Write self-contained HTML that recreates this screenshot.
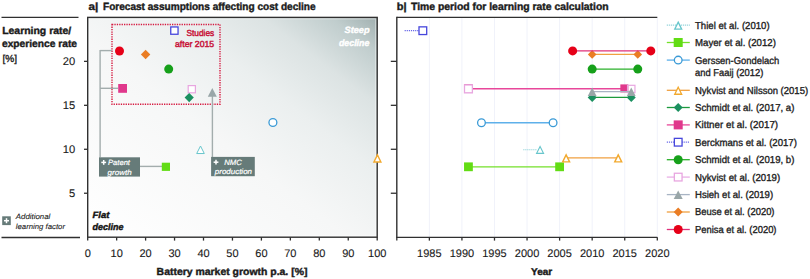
<!DOCTYPE html>
<html><head><meta charset="utf-8"><style>
html,body{margin:0;padding:0;background:#fff;overflow:hidden;}
svg{display:block;font-family:"Liberation Sans",sans-serif;text-rendering:geometricPrecision;}
</style></head><body>
<svg width="810" height="279" viewBox="0 0 810 279">
<text x="88.6" y="9.6" font-size="10.5" font-weight="bold" font-style="normal" fill="#1a1a1a" text-anchor="start" textLength="9.8" lengthAdjust="spacingAndGlyphs" stroke="#1a1a1a" stroke-width="0.4">a|</text>
<text x="103.0" y="9.6" font-size="10.5" font-weight="bold" font-style="normal" fill="#1a1a1a" text-anchor="start" textLength="212.6" lengthAdjust="spacingAndGlyphs" stroke="#1a1a1a" stroke-width="0.4">Forecast assumptions affecting cost decline</text>
<text x="396.8" y="9.6" font-size="10.5" font-weight="bold" font-style="normal" fill="#1a1a1a" text-anchor="start" textLength="9.8" lengthAdjust="spacingAndGlyphs" stroke="#1a1a1a" stroke-width="0.4">b|</text>
<text x="411.0" y="9.6" font-size="10.5" font-weight="bold" font-style="normal" fill="#1a1a1a" text-anchor="start" textLength="197.6" lengthAdjust="spacingAndGlyphs" stroke="#1a1a1a" stroke-width="0.4">Time period for learning rate calculation</text>
<line x1="1.50" y1="17.40" x2="78.50" y2="17.40" stroke="#303030" stroke-width="1.3"/>
<line x1="1.50" y1="237.50" x2="80.00" y2="237.50" stroke="#303030" stroke-width="1.3"/>
<text x="2.2" y="33.8" font-size="10.2" font-weight="bold" font-style="normal" fill="#1a1a1a" text-anchor="start" textLength="69" lengthAdjust="spacingAndGlyphs" stroke="#1a1a1a" stroke-width="0.4">Learning rate/</text>
<text x="2.0" y="47.3" font-size="10.2" font-weight="bold" font-style="normal" fill="#1a1a1a" text-anchor="start" textLength="75" lengthAdjust="spacingAndGlyphs" stroke="#1a1a1a" stroke-width="0.4">experience rate</text>
<text x="2.4" y="62.3" font-size="10.2" font-weight="normal" font-style="normal" fill="#1a1a1a" text-anchor="start" textLength="14.6" lengthAdjust="spacingAndGlyphs" stroke="#1a1a1a" stroke-width="0.35">[%]</text>
<rect x="2.2" y="216.3" width="8.6" height="8.8" fill="#667b79"/>
<line x1="4.00" y1="220.70" x2="9.00" y2="220.70" stroke="#fff" stroke-width="1.5"/>
<line x1="6.50" y1="218.20" x2="6.50" y2="223.20" stroke="#fff" stroke-width="1.5"/>
<text x="15.8" y="219.3" font-size="7.5" font-weight="normal" font-style="italic" fill="#1a1a1a" text-anchor="start" textLength="34.5" lengthAdjust="spacingAndGlyphs" stroke="#1a1a1a" stroke-width="0.1">Additional</text>
<text x="15.8" y="229.2" font-size="7.5" font-weight="normal" font-style="italic" fill="#1a1a1a" text-anchor="start" textLength="49.2" lengthAdjust="spacingAndGlyphs" stroke="#1a1a1a" stroke-width="0.1">learning factor</text>
<defs><linearGradient id="g" gradientUnits="userSpaceOnUse" x1="126.6" y1="266.7" x2="338.3" y2="-12.1"><stop offset="0" stop-color="#ffffff"/><stop offset="0.45" stop-color="#f6f7f7"/><stop offset="0.65" stop-color="#ebefef"/><stop offset="0.8" stop-color="#dce3e3"/><stop offset="0.92" stop-color="#c0cdcd"/><stop offset="1" stop-color="#a0afaf"/></linearGradient></defs>
<rect x="87.7" y="17.4" width="289.50" height="219.80" fill="url(#g)"/>
<text x="92.5" y="217.9" font-size="9.2" font-weight="bold" font-style="italic" fill="#111" text-anchor="start" textLength="16.8" lengthAdjust="spacingAndGlyphs" stroke="#111" stroke-width="0.4">Flat</text>
<text x="92.5" y="230.4" font-size="9.2" font-weight="bold" font-style="italic" fill="#111" text-anchor="start" textLength="31" lengthAdjust="spacingAndGlyphs" stroke="#111" stroke-width="0.4">decline</text>
<text x="369.6" y="32.9" font-size="9.2" font-weight="bold" font-style="italic" fill="#fff" text-anchor="end" textLength="25" lengthAdjust="spacingAndGlyphs" stroke="#fff" stroke-width="0.4">Steep</text>
<text x="369.4" y="45.5" font-size="9.2" font-weight="bold" font-style="italic" fill="#fff" text-anchor="end" textLength="30.5" lengthAdjust="spacingAndGlyphs" stroke="#fff" stroke-width="0.4">decline</text>
<rect x="112" y="24.5" width="108" height="79.7" fill="none" stroke="#d51a40" stroke-width="1.4" stroke-dasharray="1.3 1.1"/>
<text x="214.2" y="36.1" font-size="8.8" font-weight="normal" font-style="normal" fill="#c8143a" text-anchor="end" textLength="27.8" lengthAdjust="spacingAndGlyphs" stroke="#c8143a" stroke-width="0.45">Studies</text>
<text x="214.2" y="46.7" font-size="8.8" font-weight="normal" font-style="normal" fill="#c8143a" text-anchor="end" textLength="39.2" lengthAdjust="spacingAndGlyphs" stroke="#c8143a" stroke-width="0.45">after 2015</text>
<line x1="100.10" y1="50.60" x2="112.00" y2="50.60" stroke="#a3adad" stroke-width="1.4"/>
<line x1="100.10" y1="88.30" x2="118.00" y2="88.30" stroke="#a3adad" stroke-width="1.4"/>
<line x1="100.10" y1="49.90" x2="100.10" y2="157.30" stroke="#a3adad" stroke-width="1.4"/>
<line x1="140.00" y1="166.40" x2="162.00" y2="166.40" stroke="#a3adad" stroke-width="1.4"/>
<line x1="212.40" y1="96.00" x2="212.40" y2="157.00" stroke="#a3adad" stroke-width="1.4"/>
<rect x="99" y="157.3" width="41" height="19.3" fill="#667b79"/>
<line x1="101.30" y1="162.40" x2="106.10" y2="162.40" stroke="#fff" stroke-width="1.5"/>
<line x1="103.70" y1="160.00" x2="103.70" y2="164.80" stroke="#fff" stroke-width="1.5"/>
<text x="108" y="164.7" font-size="7.6" font-weight="normal" font-style="italic" fill="#fff" text-anchor="start" textLength="22" lengthAdjust="spacingAndGlyphs" stroke="#fff" stroke-width="0.2">Patent</text>
<text x="107.6" y="174.5" font-size="7.6" font-weight="normal" font-style="italic" fill="#fff" text-anchor="start" textLength="24" lengthAdjust="spacingAndGlyphs" stroke="#fff" stroke-width="0.2">growth</text>
<rect x="211.1" y="156.9" width="43.7" height="19.3" fill="#667b79"/>
<line x1="213.60" y1="162.20" x2="218.40" y2="162.20" stroke="#fff" stroke-width="1.5"/>
<line x1="216.00" y1="159.80" x2="216.00" y2="164.60" stroke="#fff" stroke-width="1.5"/>
<text x="224.2" y="164.6" font-size="7.6" font-weight="normal" font-style="italic" fill="#fff" text-anchor="start" textLength="17.6" lengthAdjust="spacingAndGlyphs" stroke="#fff" stroke-width="0.2">NMC</text>
<text x="214.8" y="174.3" font-size="7.6" font-weight="normal" font-style="italic" fill="#fff" text-anchor="start" textLength="37.2" lengthAdjust="spacingAndGlyphs" stroke="#fff" stroke-width="0.2">production</text>
<circle cx="119.50" cy="51.00" r="4.5" fill="#e60018"/>
<path d="M145.60 49.80L150.30 54.50L145.60 59.20L140.90 54.50Z" fill="#ea7d24"/>
<rect x="170.75" y="26.95" width="7.30" height="7.30" fill="#fff" stroke="#4646dc" stroke-width="1.3"/>
<circle cx="168.70" cy="69.10" r="4.5" fill="#16a01a"/>
<rect x="118.20" y="84.00" width="8.8" height="8.8" fill="#e0388c"/>
<rect x="188.20" y="85.60" width="7.20" height="7.20" fill="#fff" stroke="#e8a6e0" stroke-width="1.2"/>
<path d="M189.20 93.00L193.80 97.60L189.20 102.20L184.60 97.60Z" fill="#1b9060"/>
<path d="M212.30 88.10L216.80 96.65L207.80 96.65Z" fill="#99a6a8"/>
<circle cx="272.90" cy="122.50" r="3.95" fill="#fff" stroke="#3a9ad6" stroke-width="1.3"/>
<path d="M200.50 146.00L204.30 153.54L196.70 153.54Z" fill="#fff" stroke="#68c6cc" stroke-width="1.0" stroke-linejoin="miter"/>
<rect x="161.80" y="162.70" width="8.2" height="8.2" fill="#62dc14"/>
<rect x="89.10" y="18.80" width="286.70" height="217.00" fill="none" stroke="#ffffff" stroke-opacity="0.5" stroke-width="1.1"/>
<rect x="87.7" y="17.4" width="289.50" height="219.80" fill="none" stroke="#303030" stroke-width="1.4"/>
<path d="M377.40 154.92L380.88 161.98L373.92 161.98Z" fill="#fff" stroke="#f2a92e" stroke-width="1.4" stroke-linejoin="miter"/>
<line x1="84.00" y1="193.24" x2="87.70" y2="193.24" stroke="#303030" stroke-width="1.3"/>
<text x="75.3" y="196.93999999999997" font-size="11.2" font-weight="normal" font-style="normal" fill="#1a1a1a" text-anchor="end" stroke="#1a1a1a" stroke-width="0.12">5</text>
<line x1="84.00" y1="149.28" x2="87.70" y2="149.28" stroke="#303030" stroke-width="1.3"/>
<text x="75.3" y="152.97999999999996" font-size="11.2" font-weight="normal" font-style="normal" fill="#1a1a1a" text-anchor="end" stroke="#1a1a1a" stroke-width="0.12">10</text>
<line x1="84.00" y1="105.32" x2="87.70" y2="105.32" stroke="#303030" stroke-width="1.3"/>
<text x="75.3" y="109.02" font-size="11.2" font-weight="normal" font-style="normal" fill="#1a1a1a" text-anchor="end" stroke="#1a1a1a" stroke-width="0.12">15</text>
<line x1="84.00" y1="61.36" x2="87.70" y2="61.36" stroke="#303030" stroke-width="1.3"/>
<text x="75.3" y="65.05999999999999" font-size="11.2" font-weight="normal" font-style="normal" fill="#1a1a1a" text-anchor="end" stroke="#1a1a1a" stroke-width="0.12">20</text>
<line x1="87.70" y1="237.20" x2="87.70" y2="240.60" stroke="#303030" stroke-width="1.3"/>
<text x="87.7" y="257.1" font-size="11" font-weight="normal" font-style="normal" fill="#1a1a1a" text-anchor="middle" stroke="#1a1a1a" stroke-width="0.12">0</text>
<line x1="116.65" y1="237.20" x2="116.65" y2="240.60" stroke="#303030" stroke-width="1.3"/>
<text x="116.65" y="257.1" font-size="11" font-weight="normal" font-style="normal" fill="#1a1a1a" text-anchor="middle" stroke="#1a1a1a" stroke-width="0.12">10</text>
<line x1="145.60" y1="237.20" x2="145.60" y2="240.60" stroke="#303030" stroke-width="1.3"/>
<text x="145.6" y="257.1" font-size="11" font-weight="normal" font-style="normal" fill="#1a1a1a" text-anchor="middle" stroke="#1a1a1a" stroke-width="0.12">20</text>
<line x1="174.55" y1="237.20" x2="174.55" y2="240.60" stroke="#303030" stroke-width="1.3"/>
<text x="174.55" y="257.1" font-size="11" font-weight="normal" font-style="normal" fill="#1a1a1a" text-anchor="middle" stroke="#1a1a1a" stroke-width="0.12">30</text>
<line x1="203.50" y1="237.20" x2="203.50" y2="240.60" stroke="#303030" stroke-width="1.3"/>
<text x="203.5" y="257.1" font-size="11" font-weight="normal" font-style="normal" fill="#1a1a1a" text-anchor="middle" stroke="#1a1a1a" stroke-width="0.12">40</text>
<line x1="232.45" y1="237.20" x2="232.45" y2="240.60" stroke="#303030" stroke-width="1.3"/>
<text x="232.45" y="257.1" font-size="11" font-weight="normal" font-style="normal" fill="#1a1a1a" text-anchor="middle" stroke="#1a1a1a" stroke-width="0.12">50</text>
<line x1="261.40" y1="237.20" x2="261.40" y2="240.60" stroke="#303030" stroke-width="1.3"/>
<text x="261.4" y="257.1" font-size="11" font-weight="normal" font-style="normal" fill="#1a1a1a" text-anchor="middle" stroke="#1a1a1a" stroke-width="0.12">60</text>
<line x1="290.35" y1="237.20" x2="290.35" y2="240.60" stroke="#303030" stroke-width="1.3"/>
<text x="290.35" y="257.1" font-size="11" font-weight="normal" font-style="normal" fill="#1a1a1a" text-anchor="middle" stroke="#1a1a1a" stroke-width="0.12">70</text>
<line x1="319.30" y1="237.20" x2="319.30" y2="240.60" stroke="#303030" stroke-width="1.3"/>
<text x="319.3" y="257.1" font-size="11" font-weight="normal" font-style="normal" fill="#1a1a1a" text-anchor="middle" stroke="#1a1a1a" stroke-width="0.12">80</text>
<line x1="348.25" y1="237.20" x2="348.25" y2="240.60" stroke="#303030" stroke-width="1.3"/>
<text x="348.25" y="257.1" font-size="11" font-weight="normal" font-style="normal" fill="#1a1a1a" text-anchor="middle" stroke="#1a1a1a" stroke-width="0.12">90</text>
<line x1="377.20" y1="237.20" x2="377.20" y2="240.60" stroke="#303030" stroke-width="1.3"/>
<text x="377.2" y="257.1" font-size="11" font-weight="normal" font-style="normal" fill="#1a1a1a" text-anchor="middle" stroke="#1a1a1a" stroke-width="0.12">100</text>
<text x="156.6" y="274.9" font-size="10.2" font-weight="bold" font-style="normal" fill="#1a1a1a" text-anchor="start" textLength="150.8" lengthAdjust="spacingAndGlyphs" stroke="#1a1a1a" stroke-width="0.4">Battery market growth p.a. [%]</text>
<line x1="429.36" y1="17.40" x2="429.36" y2="237.20" stroke="#f0f2fa" stroke-width="1.0"/>
<line x1="461.93" y1="17.40" x2="461.93" y2="237.20" stroke="#f0f2fa" stroke-width="1.0"/>
<line x1="494.49" y1="17.40" x2="494.49" y2="237.20" stroke="#f0f2fa" stroke-width="1.0"/>
<line x1="527.05" y1="17.40" x2="527.05" y2="237.20" stroke="#f0f2fa" stroke-width="1.0"/>
<line x1="559.61" y1="17.40" x2="559.61" y2="237.20" stroke="#f0f2fa" stroke-width="1.0"/>
<line x1="592.17" y1="17.40" x2="592.17" y2="237.20" stroke="#f0f2fa" stroke-width="1.0"/>
<line x1="624.74" y1="17.40" x2="624.74" y2="237.20" stroke="#f0f2fa" stroke-width="1.0"/>
<line x1="657.30" y1="17.40" x2="657.30" y2="237.20" stroke="#f0f2fa" stroke-width="1.0"/>
<line x1="396.80" y1="17.40" x2="657.30" y2="17.40" stroke="#303030" stroke-width="1.4"/>
<line x1="396.80" y1="16.70" x2="396.80" y2="237.90" stroke="#303030" stroke-width="1.4"/>
<line x1="396.80" y1="237.40" x2="657.30" y2="237.40" stroke="#303030" stroke-width="1.4"/>
<line x1="390.80" y1="193.24" x2="396.80" y2="193.24" stroke="#303030" stroke-width="1.3"/>
<line x1="390.80" y1="149.28" x2="396.80" y2="149.28" stroke="#303030" stroke-width="1.3"/>
<line x1="390.80" y1="105.32" x2="396.80" y2="105.32" stroke="#303030" stroke-width="1.3"/>
<line x1="390.80" y1="61.36" x2="396.80" y2="61.36" stroke="#303030" stroke-width="1.3"/>
<line x1="396.80" y1="237.20" x2="396.80" y2="240.60" stroke="#303030" stroke-width="1.3"/>
<line x1="429.36" y1="237.20" x2="429.36" y2="240.60" stroke="#303030" stroke-width="1.3"/>
<text x="429.3625" y="257.1" font-size="11" font-weight="normal" font-style="normal" fill="#1a1a1a" text-anchor="middle" stroke="#1a1a1a" stroke-width="0.12">1985</text>
<line x1="461.93" y1="237.20" x2="461.93" y2="240.60" stroke="#303030" stroke-width="1.3"/>
<text x="461.925" y="257.1" font-size="11" font-weight="normal" font-style="normal" fill="#1a1a1a" text-anchor="middle" stroke="#1a1a1a" stroke-width="0.12">1990</text>
<line x1="494.49" y1="237.20" x2="494.49" y2="240.60" stroke="#303030" stroke-width="1.3"/>
<text x="494.48749999999995" y="257.1" font-size="11" font-weight="normal" font-style="normal" fill="#1a1a1a" text-anchor="middle" stroke="#1a1a1a" stroke-width="0.12">1995</text>
<line x1="527.05" y1="237.20" x2="527.05" y2="240.60" stroke="#303030" stroke-width="1.3"/>
<text x="527.05" y="257.1" font-size="11" font-weight="normal" font-style="normal" fill="#1a1a1a" text-anchor="middle" stroke="#1a1a1a" stroke-width="0.12">2000</text>
<line x1="559.61" y1="237.20" x2="559.61" y2="240.60" stroke="#303030" stroke-width="1.3"/>
<text x="559.6125" y="257.1" font-size="11" font-weight="normal" font-style="normal" fill="#1a1a1a" text-anchor="middle" stroke="#1a1a1a" stroke-width="0.12">2005</text>
<line x1="592.17" y1="237.20" x2="592.17" y2="240.60" stroke="#303030" stroke-width="1.3"/>
<text x="592.175" y="257.1" font-size="11" font-weight="normal" font-style="normal" fill="#1a1a1a" text-anchor="middle" stroke="#1a1a1a" stroke-width="0.12">2010</text>
<line x1="624.74" y1="237.20" x2="624.74" y2="240.60" stroke="#303030" stroke-width="1.3"/>
<text x="624.7375" y="257.1" font-size="11" font-weight="normal" font-style="normal" fill="#1a1a1a" text-anchor="middle" stroke="#1a1a1a" stroke-width="0.12">2015</text>
<line x1="657.30" y1="237.20" x2="657.30" y2="240.60" stroke="#303030" stroke-width="1.3"/>
<text x="657.3" y="257.1" font-size="11" font-weight="normal" font-style="normal" fill="#1a1a1a" text-anchor="middle" stroke="#1a1a1a" stroke-width="0.12">2020</text>
<text x="531" y="274.9" font-size="10" font-weight="bold" font-style="normal" fill="#1a1a1a" text-anchor="start" textLength="21.2" lengthAdjust="spacingAndGlyphs" stroke="#1a1a1a" stroke-width="0.4">Year</text>
<line x1="523.30" y1="149.70" x2="536.58" y2="149.70" stroke="#8ad0d8" stroke-width="1.1" stroke-dasharray="1.1 0.9"/>
<path d="M540.08 146.38L543.60 153.42L536.56 153.42Z" fill="#fff" stroke="#68c6cc" stroke-width="1.1" stroke-linejoin="miter"/>
<line x1="468.44" y1="166.80" x2="559.61" y2="166.80" stroke="#74e02a" stroke-width="1.3"/>
<rect x="464.04" y="162.40" width="8.8" height="8.8" fill="#62dc14"/>
<rect x="555.21" y="162.40" width="8.8" height="8.8" fill="#62dc14"/>
<line x1="481.46" y1="122.80" x2="553.10" y2="122.80" stroke="#5eb0ea" stroke-width="1.5"/>
<circle cx="481.46" cy="122.80" r="3.85" fill="#fff" stroke="#3a9ad6" stroke-width="1.3"/>
<circle cx="553.10" cy="122.80" r="3.85" fill="#fff" stroke="#3a9ad6" stroke-width="1.3"/>
<line x1="566.12" y1="157.90" x2="618.22" y2="157.90" stroke="#f0a040" stroke-width="1.3"/>
<path d="M566.12 154.82L569.61 161.88L562.64 161.88Z" fill="#fff" stroke="#f2a92e" stroke-width="1.4" stroke-linejoin="miter"/>
<path d="M618.22 154.82L621.70 161.88L614.74 161.88Z" fill="#fff" stroke="#f2a92e" stroke-width="1.4" stroke-linejoin="miter"/>
<line x1="592.17" y1="97.40" x2="631.25" y2="97.40" stroke="#1c9a3c" stroke-width="1.3"/>
<path d="M592.17 92.90L596.67 97.40L592.17 101.90L587.67 97.40Z" fill="#1b9060"/>
<path d="M631.25 92.90L635.75 97.40L631.25 101.90L626.75 97.40Z" fill="#1b9060"/>
<line x1="468.44" y1="88.80" x2="624.74" y2="88.80" stroke="#e8479a" stroke-width="1.4"/>
<rect x="464.14" y="84.30" width="8.6" height="8.6" fill="#e0388c"/>
<rect x="620.34" y="84.40" width="8" height="8" fill="#e0388c"/>
<line x1="404.62" y1="30.70" x2="418.85" y2="30.70" stroke="#6a6ae8" stroke-width="1.3" stroke-dasharray="1.2 0.9"/>
<rect x="419.00" y="26.85" width="7.70" height="7.70" fill="#fff" stroke="#4646dc" stroke-width="1.3"/>
<line x1="592.17" y1="69.10" x2="637.76" y2="69.10" stroke="#2ab02a" stroke-width="1.3"/>
<circle cx="592.17" cy="69.10" r="4.5" fill="#16a01a"/>
<circle cx="637.76" cy="69.10" r="4.5" fill="#16a01a"/>
<rect x="627.55" y="85.30" width="7.40" height="7.40" fill="none" stroke="#e8a6e0" stroke-width="1.2"/>
<rect x="464.49" y="84.95" width="7.90" height="7.90" fill="#fff" stroke="#e8a6e0" stroke-width="1.3"/>
<line x1="592.17" y1="91.70" x2="631.25" y2="91.70" stroke="#a8b4c4" stroke-width="1.3"/>
<path d="M592.17 87.60L596.57 95.96L587.77 95.96Z" fill="#99a6a8"/>
<path d="M631.25 87.60L635.65 95.96L626.85 95.96Z" fill="#99a6a8"/>
<line x1="592.17" y1="54.40" x2="637.76" y2="54.40" stroke="#f0a040" stroke-width="1.3"/>
<path d="M592.17 50.10L596.47 54.40L592.17 58.70L587.88 54.40Z" fill="#ea7d24"/>
<path d="M637.76 50.10L642.06 54.40L637.76 58.70L633.46 54.40Z" fill="#ea7d24"/>
<line x1="572.64" y1="50.90" x2="650.79" y2="50.90" stroke="#e0307a" stroke-width="1.4"/>
<circle cx="572.64" cy="50.90" r="4.5" fill="#e60018"/>
<circle cx="650.79" cy="50.90" r="4.5" fill="#e60018"/>
<line x1="666.80" y1="25.20" x2="689.80" y2="25.20" stroke="#8ad0d8" stroke-width="1.3" stroke-dasharray="1.1 0.9"/>
<path d="M678.20 22.14L681.66 29.13L674.74 29.13Z" fill="#fff" stroke="#68c6cc" stroke-width="1.3" stroke-linejoin="miter"/>
<text x="695.0" y="28.599999999999998" font-size="10.1" font-weight="normal" font-style="normal" fill="#1f1f1f" text-anchor="start" textLength="74.6" lengthAdjust="spacingAndGlyphs" stroke="#1f1f1f" stroke-width="0.35">Thiel et al. (2010)</text>
<line x1="666.80" y1="42.50" x2="689.80" y2="42.50" stroke="#74e02a" stroke-width="1.3"/>
<rect x="673.70" y="38.00" width="9" height="9" fill="#62dc14"/>
<text x="695.0" y="45.9" font-size="10.1" font-weight="normal" font-style="normal" fill="#1f1f1f" text-anchor="start" textLength="80.9" lengthAdjust="spacingAndGlyphs" stroke="#1f1f1f" stroke-width="0.35">Mayer et al. (2012)</text>
<line x1="666.80" y1="60.10" x2="689.80" y2="60.10" stroke="#5eb0ea" stroke-width="1.3"/>
<circle cx="678.20" cy="60.10" r="3.85" fill="#fff" stroke="#3a9ad6" stroke-width="1.3"/>
<text x="695.0" y="63.5" font-size="10.1" font-weight="normal" font-style="normal" fill="#1f1f1f" text-anchor="start" textLength="84.2" lengthAdjust="spacingAndGlyphs" stroke="#1f1f1f" stroke-width="0.35">Gerssen-Gondelach</text>
<line x1="666.80" y1="90.30" x2="689.80" y2="90.30" stroke="#f0a040" stroke-width="1.3"/>
<path d="M678.20 87.24L681.66 94.23L674.74 94.23Z" fill="#fff" stroke="#f2a92e" stroke-width="1.3" stroke-linejoin="miter"/>
<text x="695.0" y="93.7" font-size="10.1" font-weight="normal" font-style="normal" fill="#1f1f1f" text-anchor="start" textLength="113.1" lengthAdjust="spacingAndGlyphs" stroke="#1f1f1f" stroke-width="0.35">Nykvist and Nilsson (2015)</text>
<line x1="666.80" y1="107.50" x2="689.80" y2="107.50" stroke="#1c9a3c" stroke-width="1.3"/>
<path d="M678.20 103.00L682.70 107.50L678.20 112.00L673.70 107.50Z" fill="#1b9060"/>
<text x="695.0" y="110.9" font-size="10.1" font-weight="normal" font-style="normal" fill="#1f1f1f" text-anchor="start" textLength="99.4" lengthAdjust="spacingAndGlyphs" stroke="#1f1f1f" stroke-width="0.35">Schmidt et al. (2017, a)</text>
<line x1="666.80" y1="124.90" x2="689.80" y2="124.90" stroke="#e8479a" stroke-width="1.3"/>
<rect x="673.70" y="120.40" width="9" height="9" fill="#e0388c"/>
<text x="695.0" y="128.3" font-size="10.1" font-weight="normal" font-style="normal" fill="#1f1f1f" text-anchor="start" textLength="83.1" lengthAdjust="spacingAndGlyphs" stroke="#1f1f1f" stroke-width="0.35">Kittner et al. (2017)</text>
<line x1="666.80" y1="142.20" x2="689.80" y2="142.20" stroke="#6a6ae8" stroke-width="1.3" stroke-dasharray="1.2 0.9"/>
<rect x="674.35" y="138.35" width="7.70" height="7.70" fill="#fff" stroke="#4646dc" stroke-width="1.3"/>
<text x="695.0" y="145.6" font-size="10.1" font-weight="normal" font-style="normal" fill="#1f1f1f" text-anchor="start" textLength="101.9" lengthAdjust="spacingAndGlyphs" stroke="#1f1f1f" stroke-width="0.35">Berckmans et al. (2017)</text>
<line x1="666.80" y1="159.70" x2="689.80" y2="159.70" stroke="#2ab02a" stroke-width="1.3"/>
<circle cx="678.20" cy="159.70" r="4.5" fill="#16a01a"/>
<text x="695.0" y="163.1" font-size="10.1" font-weight="normal" font-style="normal" fill="#1f1f1f" text-anchor="start" textLength="99.4" lengthAdjust="spacingAndGlyphs" stroke="#1f1f1f" stroke-width="0.35">Schmidt et al. (2019, b)</text>
<line x1="666.80" y1="177.10" x2="689.80" y2="177.10" stroke="#eab0e6" stroke-width="1.3"/>
<rect x="674.35" y="173.25" width="7.70" height="7.70" fill="#fff" stroke="#e8a6e0" stroke-width="1.3"/>
<text x="695.0" y="180.5" font-size="10.1" font-weight="normal" font-style="normal" fill="#1f1f1f" text-anchor="start" textLength="85.1" lengthAdjust="spacingAndGlyphs" stroke="#1f1f1f" stroke-width="0.35">Nykvist et al. (2019)</text>
<line x1="666.80" y1="194.60" x2="689.80" y2="194.60" stroke="#a8b4c4" stroke-width="1.3"/>
<path d="M678.20 190.50L682.70 199.05L673.70 199.05Z" fill="#99a6a8"/>
<text x="695.0" y="198.0" font-size="10.1" font-weight="normal" font-style="normal" fill="#1f1f1f" text-anchor="start" textLength="78.1" lengthAdjust="spacingAndGlyphs" stroke="#1f1f1f" stroke-width="0.35">Hsieh et al. (2019)</text>
<line x1="666.80" y1="212.00" x2="689.80" y2="212.00" stroke="#f0a040" stroke-width="1.3"/>
<path d="M678.20 207.50L682.70 212.00L678.20 216.50L673.70 212.00Z" fill="#ea7d24"/>
<text x="695.0" y="215.4" font-size="10.1" font-weight="normal" font-style="normal" fill="#1f1f1f" text-anchor="start" textLength="79.5" lengthAdjust="spacingAndGlyphs" stroke="#1f1f1f" stroke-width="0.35">Beuse et al. (2020)</text>
<line x1="666.80" y1="229.50" x2="689.80" y2="229.50" stroke="#e0307a" stroke-width="1.3"/>
<circle cx="678.20" cy="229.50" r="4.5" fill="#e60018"/>
<text x="695.0" y="232.9" font-size="10.1" font-weight="normal" font-style="normal" fill="#1f1f1f" text-anchor="start" textLength="81.5" lengthAdjust="spacingAndGlyphs" stroke="#1f1f1f" stroke-width="0.35">Penisa et al. (2020)</text>
<text x="695.0" y="76.3" font-size="10.1" font-weight="normal" font-style="normal" fill="#1f1f1f" text-anchor="start" textLength="68.3" lengthAdjust="spacingAndGlyphs" stroke="#1f1f1f" stroke-width="0.35">and Faaij (2012)</text>
</svg>
</body></html>
